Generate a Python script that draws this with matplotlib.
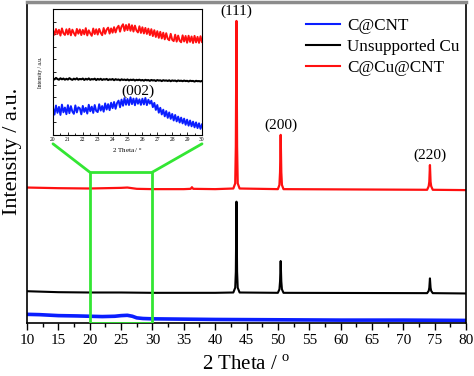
import numpy as np
import matplotlib
matplotlib.use("Agg")
import matplotlib.pyplot as plt
from matplotlib.patches import Rectangle, ConnectionPatch
from matplotlib.lines import Line2D
from matplotlib.ticker import MultipleLocator

plt.rcParams['font.family'] = ['Liberation Serif', 'DejaVu Serif']
plt.rcParams['mathtext.fontset'] = 'custom'
plt.rcParams['mathtext.rm'] = 'Liberation Serif'

# ---------------- main pattern data (2theta, intensity a.u.) ----------------
red_x = [10, 15, 20, 25, 26, 27.5, 30, 35, 36.1, 36.3, 36.5, 40, 42.9, 43.2, 43.3,
         43.4, 43.5, 43.6, 43.9, 50.0, 50.25, 50.35, 50.45, 50.55, 50.65, 50.9, 73.8,
         74.05, 74.15, 74.25, 74.35, 74.45, 74.7, 80]
red_y = [42.2, 42.0, 41.9, 42.1, 42.2, 41.8, 41.7, 41.7, 41.8, 42.3, 41.8, 41.7, 41.9, 43.5, 55,
         94.1, 55, 43.5, 41.9, 41.7, 43.0, 47, 58.6, 47, 43.0, 41.7, 41.5,
         42.6, 44.0, 49.2, 44.0, 42.6, 41.5, 41.4]

black_x = [10, 15, 20, 25, 30, 35, 40, 42.9, 43.2, 43.3, 43.4, 43.5, 43.6, 43.9, 50.0,
           50.25, 50.35, 50.45, 50.55, 50.65, 50.9, 73.8, 74.05, 74.15, 74.25, 74.35, 74.45, 74.7, 80]
black_y = [9.9, 9.6, 9.5, 9.5, 9.4, 9.4, 9.4, 9.5, 11.0, 16, 37.8, 16, 11.0, 9.5, 9.4,
           10.5, 13, 19.3, 13, 10.5, 9.4, 9.3, 10.0, 11.0, 13.9, 11.0, 10.0, 9.3, 9.2]

blue_x = [10, 12, 15, 18, 20, 22, 24, 25, 26, 26.8, 27.5, 28.5, 30, 35, 40, 50, 60, 70, 80]
blue_y = [2.7, 2.6, 2.3, 2.2, 2.1, 2.0, 2.1, 2.3, 2.4, 2.1, 1.6, 1.4, 1.3, 1.2, 1.1, 1.0, 0.9, 0.9, 0.8]

peak_labels = ['(111)', '(200)', '(220)']
peak_pos = [43.4, 50.45, 74.25]
peak_top = [94.1, 58.6, 49.2]

# ---------------- inset data (20-30 degrees) ----------------
inset_red = [83.0, 79.6, 84.1, 80.2, 83.5, 78.9, 84.6, 80.7, 79.4, 83.9,
             79.8, 84.3, 79.1, 83.6, 80.9, 78.8, 84.2, 80.4, 83.8, 79.3,
             83.4, 79.9, 84.8, 79.0, 83.1, 80.6, 78.7, 84.5, 80.1, 83.9,
             79.7, 84.2, 81.1, 79.2, 84.9, 80.3, 83.7, 85.2, 80.5, 84.6,
             81.2, 85.6, 81.4, 85.0, 86.7, 82.0, 86.1, 87.9, 82.6, 87.3,
             83.2, 88.0, 82.7, 87.1, 82.1, 86.8, 82.9, 81.4, 86.3, 81.0,
             85.5, 80.6, 85.0, 80.2, 84.4, 79.3, 84.0, 78.5, 83.2, 77.8,
             82.4, 77.1, 81.9, 76.6, 81.2, 75.9, 80.8, 76.3, 75.2, 80.3,
             75.6, 74.5, 79.6, 74.1, 78.9, 74.8, 73.6, 79.1, 74.2, 78.6,
             73.2, 78.8, 73.9, 78.2, 73.0, 78.7, 73.5, 77.9, 73.1, 78.4, 73.8]
inset_black = [44.9, 44.1, 45.3, 44.4, 43.9, 45.0, 44.2, 44.8, 43.9, 44.6,
               44.0, 45.1, 44.3, 43.8, 44.7, 44.1, 45.0, 43.9, 44.5, 44.2,
               44.8, 43.7, 44.6, 44.0, 44.9, 43.8, 44.4, 44.1, 44.7, 43.6,
               44.5, 43.9, 44.6, 43.7, 44.3, 44.0, 44.5, 43.6, 44.2, 43.9,
               44.4, 43.5, 44.3, 43.8, 44.1, 43.4, 44.2, 43.7, 44.0, 43.5,
               44.1, 43.3, 43.9, 43.6, 44.0, 43.2, 43.8, 43.5, 43.9, 43.3,
               43.7, 43.1, 43.8, 43.4, 43.6, 43.0, 43.7, 43.3, 43.5, 42.9,
               43.6, 43.2, 43.4, 42.8, 43.5, 43.1, 43.3, 42.9, 43.4, 42.7,
               43.3, 43.0, 43.2, 42.6, 43.3, 42.9, 43.1, 42.7, 43.2, 42.8,
               43.0, 42.5, 43.1, 42.8, 42.9, 42.4, 43.0, 42.7, 42.8, 42.5, 42.9]
inset_blue = [21.5, 16.2, 23.4, 17.6, 22.3, 15.9, 24.1, 18.0, 21.8, 16.5,
              23.7, 17.3, 22.9, 18.6, 16.8, 23.5, 17.9, 22.0, 21.2, 16.4,
              23.1, 18.3, 21.6, 17.0, 24.0, 18.8, 22.5, 17.5, 23.8, 19.1,
              18.2, 24.4, 19.4, 23.0, 18.5, 25.1, 20.2, 24.5, 19.7, 25.6,
              21.3, 26.2, 20.8, 25.4, 27.3, 22.0, 28.1, 23.2, 29.3, 24.0,
              28.6, 23.8, 29.9, 24.5, 28.9, 23.6, 29.1, 24.8, 28.3, 23.9,
              28.8, 24.3, 29.4, 23.7, 28.0, 24.9, 27.2, 22.1, 25.5, 19.9,
              23.8, 17.7, 21.6, 16.3, 20.1, 14.8, 19.0, 13.6, 17.9, 12.8,
              16.7, 11.5, 15.9, 10.8, 14.6, 9.9, 13.8, 9.2, 13.0, 8.1,
              12.2, 7.4, 11.5, 6.9, 10.6, 6.1, 10.0, 5.5, 9.3, 4.9, 8.4]

legend_labels = ['C@CNT', 'Unsupported Cu', 'C@Cu@CNT']

BLUE = '#0a1eff'
RED = '#ff1010'
BLACK = '#000000'
GREEN = '#33e633'

fig = plt.figure(figsize=(4.74, 3.76), dpi=100)
ax = fig.add_axes([27/474, 1-323/376, 439/474, 321/376])

ax.plot(blue_x, blue_y, color=BLUE, lw=2.6)
ax.plot(black_x, black_y, color=BLACK, lw=1.5)
ax.plot(red_x, red_y, color=RED, lw=1.6)

for lab, px, py in zip(peak_labels, peak_pos, peak_top):
    ax.annotate(lab, (px, py), xytext=(0, 2), textcoords='offset points',
                ha='center', va='bottom', fontsize=11)

ax.set_xlim(10, 80)
ax.set_ylim(0, 100)
ax.xaxis.set_major_locator(MultipleLocator(5))
ax.xaxis.set_minor_locator(MultipleLocator(2.5))
ax.tick_params(axis='x', which='major', direction='out', length=5, width=1, labelsize=11, pad=3)
ax.tick_params(axis='x', which='minor', direction='out', length=3, width=1)
ax.set_yticks([])
ax.set_xlabel('2 Theta / $^{\\rm o}$', fontsize=15, labelpad=6)
ax.set_ylabel('Intensity / a.u.', fontsize=16)
ax.yaxis.set_label_coords(-0.012, 0.535)
for s in ['left', 'right', 'bottom']:
    ax.spines[s].set_linewidth(1.2)
ax.spines['top'].set_color('#8c8c8c')
ax.spines['top'].set_linewidth(2.5)

handles = [Line2D([], [], color=c, lw=1.5) for c in (BLUE, BLACK, RED)]
leg = ax.legend(handles, legend_labels, loc='upper left', bbox_to_anchor=(0.62, 0.97),
                frameon=False, fontsize=12.3, handlelength=2.0, handletextpad=0.4,
                labelspacing=0.28, borderaxespad=0)

# zoom rectangle on main axes
rect_top = 47.0
ax.add_patch(Rectangle((20, 0), 10, rect_top, fill=False, edgecolor=GREEN, lw=2.0, zorder=5))

# inset
ins = fig.add_axes([53/474, 1-135/376, 149/474, 126/376])
xi = np.linspace(20, 30, len(inset_red))
ins.plot(xi, inset_red, color=RED, lw=1.4)
ins.plot(xi, inset_black, color=BLACK, lw=1.5)
ins.plot(xi, inset_blue, color=BLUE, lw=1.4)
ins.text(25.7, 29, '(002)', ha='center', va='bottom', fontsize=11)
ins.set_xlim(20, 30)
ins.set_ylim(0, 100)
ins.xaxis.set_major_locator(MultipleLocator(1))
ins.xaxis.set_minor_locator(MultipleLocator(0.5))
ins.yaxis.set_major_locator(MultipleLocator(10))
ins.set_yticklabels([])
ins.tick_params(which='both', direction='in', labelsize=4, length=2, width=0.6, pad=1.5)
ins.tick_params(which='minor', length=1.2)
ins.set_xlabel('2 Theta / $^{\\rm o}$', fontsize=5, labelpad=3)
ins.set_ylabel('Intensity / a.u.', fontsize=4, labelpad=6)
for s in ins.spines.values():
    s.set_linewidth(0.8)

# connector lines from inset to the zoom rectangle
for xa, xd in [(0.0, 20), (1.0, 30)]:
    con = ConnectionPatch(xyA=(xa, -0.07), coordsA=ins.transAxes,
                          xyB=(xd, rect_top), coordsB=ax.transData,
                          color=GREEN, lw=2.0, zorder=5)
    fig.add_artist(con)

fig.savefig('out.png', dpi=100)
